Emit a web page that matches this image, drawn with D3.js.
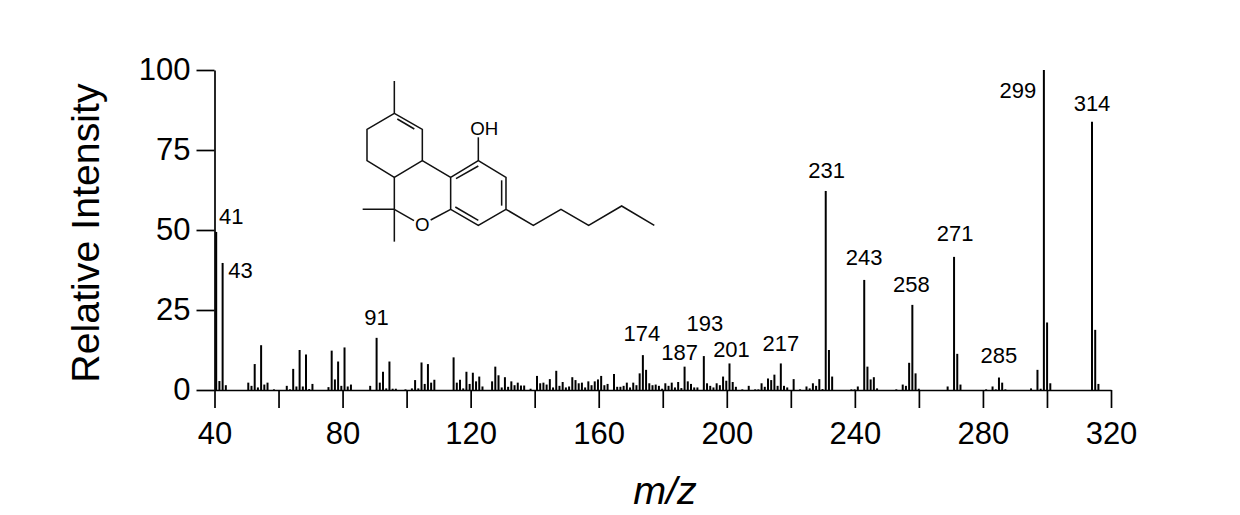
<!DOCTYPE html>
<html lang="en">

<head>
  <meta charset="utf-8">
  <title>Mass spectrum</title>
  <script src="https://d3js.org/d3.v7.min.js"></script>
  <style>
    body {
      margin: 0;
      background: white;
    }

    text {
      font-family: "Liberation Sans", sans-serif;
      fill: black;
    }

    .axis path,
    .axis line {
      fill: none;
      stroke: black;
      stroke-width: 1.7px;
    }

    .peak {
      stroke: black;
      stroke-width: 2px;
    }

    .bond {
      stroke: #111;
      fill: none;
    }
  </style>
</head>

<body>
  <div id="chart"></div>

  <script>
    var mz = [41, 42, 43, 44, 51, 52, 53, 54, 55, 56, 57, 59, 63, 64, 65, 66, 67, 68, 69, 70, 71,
      76, 77, 78, 79, 80, 81, 82, 83, 89, 91, 92, 93, 94, 95, 96, 97, 100, 102, 103, 104, 105, 106, 107, 108, 109,
      115, 116, 117, 118, 119, 120, 121, 122, 123, 124, 127, 128, 129, 130, 131, 132, 133, 134, 135, 136, 137, 139,
      141, 142, 143, 144, 145, 146, 147, 148, 149, 150, 151, 152, 153, 154, 155, 156, 157, 158, 159, 160, 161, 162, 163,
      165, 166, 167, 168, 169, 170, 171, 172, 173, 174, 175, 176, 177, 178, 179, 180, 181, 182, 183, 184, 185, 186, 187,
      188, 189, 190, 191, 193, 194, 195, 196, 197, 198, 199, 200, 201, 202, 203, 205, 207, 209, 210, 211, 212, 213, 214,
      215, 216, 217, 218, 219, 221, 223, 225, 226, 227, 228, 229, 230, 231, 232, 233, 239, 240, 241, 243, 244, 245, 246, 247,
      253, 255, 256, 257, 258, 259, 260, 269, 271, 272, 273, 281, 283, 284, 285, 286, 287, 295, 297, 298, 299, 300, 301,
      314, 315, 316];

    var intensity = [49.4, 2.8, 39.7, 1.5, 2.3, 1.3, 8.1, 0.8, 14, 1.7, 2.3, 0.2, 1.3, 0.2, 6.6, 1.1, 12.5, 1.1, 11.1, 0.3, 1.9,
      0.9, 12.3, 3.3, 8.9, 1.3, 13.3, 1.1, 1.7, 1.3, 16.3, 2.3, 5.7, 0.5, 8.9, 0.4, 0.4, 0.2, 0.5, 3.1, 0.5, 8.6, 1.9, 8.1, 2.3, 3.2,
      10.2, 2.3, 3.2, 0.5, 5.7, 1.9, 5.4, 2.7, 4.2, 1.1, 2.7, 7.3, 4.6, 0.8, 4, 1, 2.7, 1.5, 2.3, 1.4, 1.4, 0.4,
      4.4, 2.1, 2.3, 1.7, 3.4, 0.8, 6, 1.3, 2.5, 0.8, 1.1, 4, 3.1, 2.1, 2.3, 0.8, 2.7, 1.5, 2.7, 3.3, 4.4, 1.5, 1.9,
      5, 1, 1, 1.3, 2.3, 0.8, 2.3, 1.5, 5.2, 10.9, 6.3, 2.1, 1.5, 1.7, 1.3, 0.4, 2.1, 1.3, 2.3, 0.8, 2.5, 0.6, 7.3,
      2.7, 1.9, 0.8, 0.8, 10.6, 2.1, 1.3, 0.8, 2.1, 1.5, 4.2, 2.9, 8.3, 2.5, 1, 0.2, 1.3, 0.2, 0.2, 2.1, 1, 3.6, 3.1,
      4.8, 1.3, 8.3, 1.3, 0.8, 3.4, 0.2, 1.1, 0.5, 2.1, 1.3, 3.4, 0.3, 62.2, 12.5, 4.2, 0.2, 0.2, 1.1, 34.4, 7.3, 3.3, 4, 0.5,
      0.2, 1.7, 1.3, 8.5, 26.6, 5.2, 0.4, 1.1, 41.6, 11.3, 1.7, 0.2, 1.1, 0.2, 3.9, 2.3, 0.2, 0.5, 6.3, 0.4, 100, 21.1, 2.1,
      83.8, 18.8, 1.9];

    var xTicks = [40, 60, 80, 100, 120, 140, 160, 180, 200, 220, 240, 260, 280, 300, 320];
    var xTickLabels = [40, 80, 120, 160, 200, 240, 280, 320];
    var yTicks = [0, 25, 50, 75, 100];

    var labelled = [41, 43, 91, 174, 187, 193, 201, 217, 231, 243, 258, 271, 285, 299, 314];

    // label nudges from the top of each peak, the crowded ones sit well off
    var labelNudge = {
      41: [15, -15], 43: [18, 8], 91: [0, -20], 174: [-1, -21], 187: [-5, -14], 193: [1, -32], 201: [2, -13],
      217: [0, -19], 231: [1, -20], 243: [0, -22], 258: [-1, -20], 271: [1, -23], 285: [0, -22], 299: [-26, 21], 314: [0, -18]
    };

    // molecule drawn in its own little coordinate space, then scaled down
    var ringBonds = [
      [[133, 33], [133, 130], [217, 178], [217, 272], [133, 322], [51, 272], [51, 178], [133, 130]],
      [[142, 147], [193, 177]],
      [[217, 272], [302, 322], [385, 272], [468, 322], [468, 418], [385, 466], [302, 418], [302, 322]],
      [[318, 326], [385, 288]],
      [[455, 331], [455, 407]],
      [[316, 411], [385, 451]],
      [[385, 272], [385, 202]],
      [[133, 322], [133, 418]],
      [[38, 418], [133, 418]],
      [[133, 418], [133, 515]],
      [[133, 418], [192, 452]],
      [[242, 450], [302, 418]],
      [[468, 418], [550, 466], [633, 418], [716, 466], [815, 408], [913, 466]]
    ];

    var svg = d3.select('#chart')
      .append('svg')
      .attr('width', 1240)
      .attr('height', 515);

    var xS = d3.scaleLinear()
      .domain([40, 320])
      .range([214.5, 1111]);

    // peaks were calibrated a bit differently from the ruler underneath
    var peakX = d3.scaleLinear()
      .domain([41, 314])
      .range([216.2, 1092]);

    var yS = d3.scaleLinear()
      .domain([0, 100])
      .range([390, 70]);

    var xAxis = d3.axisBottom(xS)
      .tickValues(xTicks)
      .tickSize(18)
      .tickSizeOuter(0)
      .tickPadding(14)
      .tickFormat(d => xTickLabels.includes(d) ? d : '');

    var yAxis = d3.axisLeft(yS)
      .tickValues(yTicks)
      .tickSize(18)
      .tickSizeOuter(0)
      .tickPadding(6);

    svg.append('g')
      .attr('class', 'axis')
      .attr('transform', 'translate(0, 390)')
      .call(xAxis)
      .selectAll('text')
      .style('font-size', '31px');

    svg.append('g')
      .attr('class', 'axis')
      .attr('transform', 'translate(214.5, 0)')
      .call(yAxis)
      .selectAll('text')
      .style('font-size', '31px');

    svg.selectAll('.peak')
      .data(mz)
      .enter()
      .append('line')
      .attr('class', 'peak')
      .attr('x1', d => peakX(d))
      .attr('x2', d => peakX(d))
      .attr('y1', yS(0))
      .attr('y2', (d, i) => yS(intensity[i]));

    svg.selectAll('.peakLabel')
      .data(labelled)
      .enter()
      .append('text')
      .attr('class', 'peakLabel')
      .attr('text-anchor', 'middle')
      .style('font-size', '22px')
      .attr('x', d => peakX(d) + labelNudge[d][0])
      .attr('y', d => yS(intensity[mz.indexOf(d)]) + labelNudge[d][1] + 7)
      .text(d => d);

    svg.append('text')
      .attr('transform', 'translate(99, 233) rotate(-90)')
      .attr('text-anchor', 'middle')
      .style('font-size', '39.3px')
      .text('Relative Intensity');

    svg.append('text')
      .attr('x', 665)
      .attr('y', 504)
      .attr('text-anchor', 'middle')
      .style('font-size', '39.5px')
      .style('font-style', 'italic')
      .text('m/z');

    var mol = svg.append('g')
      .attr('transform', 'translate(350, 70) scale(0.3333)');

    mol.selectAll('.bond')
      .data(ringBonds)
      .enter()
      .append('path')
      .attr('class', 'bond')
      .style('stroke-width', '4.6px')
      .attr('d', d3.line());

    mol.append('text')
      .attr('x', 403)
      .attr('y', 194)
      .attr('text-anchor', 'middle')
      .style('font-size', '56px')
      .text('OH');

    mol.append('text')
      .attr('x', 217)
      .attr('y', 482)
      .attr('text-anchor', 'middle')
      .style('font-size', '56px')
      .text('O');
  </script>
</body>

</html>
